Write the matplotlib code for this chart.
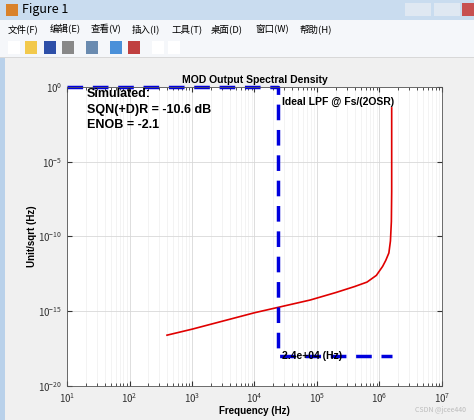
import matplotlib
matplotlib.use("Agg")
import matplotlib.pyplot as plt
from matplotlib.patches import Rectangle
import numpy as np

plt.rcParams['font.family'] = ['Noto Sans CJK SC', 'DejaVu Sans']

# data (log10 values)
freq_exp = [2.6, 3.0, 4.0, 4.89, 5.3, 5.6, 5.8, 5.95, 6.05, 6.1, 6.15, 6.175, 6.19, 6.195, 6.195]
psd_exp = [-16.6, -16.2, -15.1, -14.25, -13.75, -13.35, -13.05, -12.6, -12.0, -11.6, -11.1, -10.3, -9.0, -7.0, -1.4]
lpf_f = [10, 2.4e4, 2.4e4, 1.6e6]
lpf_v = [1.0, 1.0, 1e-18, 1e-18]
menus = ['文件(F)', '编辑(E)', '查看(V)', '插入(I)', '工具(T)', '桌面(D)', '窗口(W)', '帮助(H)']
menu_x = [8, 50, 91, 132, 172, 211, 255, 300]

W, H = 474, 420
fig = plt.figure(figsize=(W/100, H/100), dpi=100)
fig.patch.set_facecolor('#f0f0f0')

def rect(x, y, w, h, color, **kw):
    fig.add_artist(Rectangle((x/W, 1-(y+h)/H), w/W, h/H, transform=fig.transFigure,
                             facecolor=color, edgecolor='none', **kw))

rect(0, 0, W, 20, '#c9dcef')
rect(0, 20, W, 18, '#f5f7fa')
rect(0, 38, W, 20, '#f5f7fa')
rect(0, 57, W, 1, '#d8d8d8')
rect(0, 58, 5, H-58, '#b9d1ea')
rect(405, 3, 26, 13, '#dfe8f2')
rect(434, 3, 26, 13, '#dfe8f2')
rect(462, 3, 12, 13, '#c75050')
rect(6, 4, 12, 12, '#d9822b')
fig.text(22/W, 1-10/H, 'Figure 1', fontsize=9, va='center', color='black')
for m, x in zip(menus, menu_x):
    fig.text(x/W, 1-29/H, m, fontsize=6.8, va='center')
for x, c in zip([8, 25, 44, 62, 86, 110, 128, 152, 168],
                ['#ffffff', '#f2c94c', '#2d4fa8', '#888888', '#6a8bb0', '#4a90d9', '#c04040', '#ffffff', '#ffffff']):
    rect(x, 41, 12, 13, c, linewidth=0.5)

ax = fig.add_axes([67/W, 1-386/H, 375/W, 299/H])
ax.set_facecolor('white')
ax.set_xscale('log'); ax.set_yscale('log')
ax.set_xlim(10, 1e7); ax.set_ylim(1e-20, 1)
ax.grid(True, which='major', color='#d8d8d8', linewidth=0.6)
ax.grid(True, which='minor', color='#ebebeb', linewidth=0.4)
ax.set_yticks([1e-20, 1e-15, 1e-10, 1e-5, 1])
ax.set_xticks([10**k for k in range(1, 8)])
ax.tick_params(labelsize=7, direction='in', which='both', top=True, right=True, colors='#333333')
for s in ax.spines.values():
    s.set_color('#555555'); s.set_linewidth(0.6)
ax.plot(10**np.array(freq_exp), 10**np.array(psd_exp), color='#e00000', lw=1.2)
ax.plot(lpf_f, lpf_v, color='#0000dd', lw=2.5, ls=(0, (4.5, 2.8)), clip_on=False)
tf = 'Liberation Sans'
ax.set_title('MOD Output Spectral Density', fontsize=7.5, fontweight='bold', pad=3, family=tf)
ax.set_xlabel('Frequency (Hz)', fontsize=7, fontweight='bold', labelpad=1, family=tf)
ax.set_ylabel('Unit/sqrt (Hz)', fontsize=7, fontweight='bold', labelpad=1, family=tf)
ax.text(0.053, 0.995, 'Simulated:\nSQN(+D)R = -10.6 dB\nENOB = -2.1', transform=ax.transAxes,
        fontsize=9, fontweight='bold', va='top', linespacing=1.35, family=tf)
ax.text(2.8e4, 1e-1, 'Ideal LPF @ Fs/(2OSR)', fontsize=7.5, fontweight='bold', va='center', family=tf)
ax.text(2.8e4, 1e-18, '2.4e+04 (Hz)', fontsize=7.5, fontweight='bold', va='center', family=tf)
fig.text(466/W, 1-410/H, 'CSDN @jcee440', fontsize=5, color='#bbbbbb', ha='right', va='center')
fig.savefig('out.png', dpi=100, facecolor=fig.get_facecolor())
